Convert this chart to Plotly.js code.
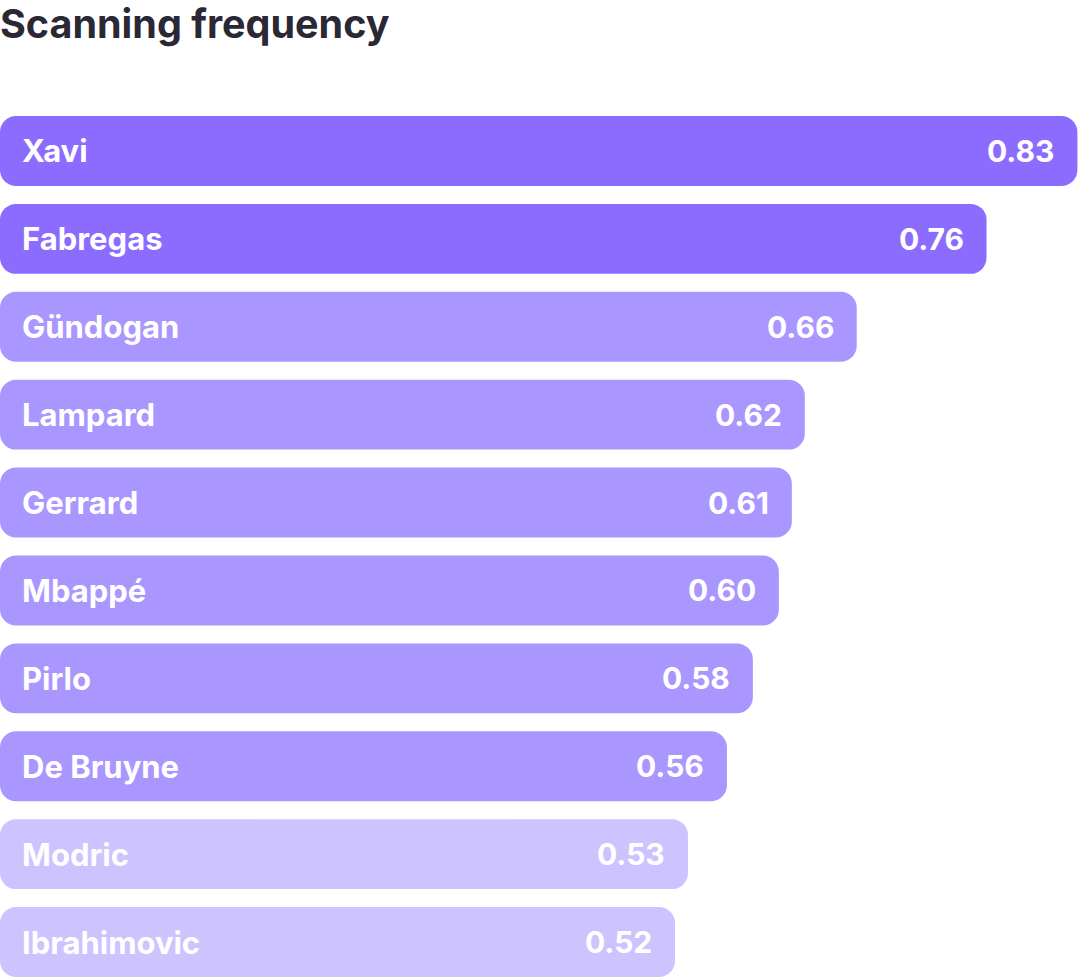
<!DOCTYPE html>
<html>
<head>
<meta charset="utf-8">
<script src="https://cdn.plot.ly/plotly-3.0.1.min.js"></script>
<style>html,body{margin:0;padding:0;background:#fff;}#chart{width:1080px;height:977px;}</style>
</head>
<body>
<div id="chart"></div>
<script>
const players = ["Xavi","Fabregas","Gündogan","Lampard","Gerrard","Mbappé","Pirlo","De Bruyne","Modric","Ibrahimovic"];
const values = [0.83,0.76,0.66,0.62,0.61,0.60,0.58,0.56,0.53,0.52];
const valueLabels = ["0.83","0.76","0.66","0.62","0.61","0.60","0.58","0.56","0.53","0.52"];
const tiers = [0,0,1,1,1,1,1,1,2,2];
const tierColors = ["#8B6CFF","#AA96FF","#CDC4FF"];

const barColors = tiers.map(t => tierColors[t]);
const font = "Inter, 'Open Sans', sans-serif";

const annotations = [];
players.forEach((p,i) => {
  annotations.push({x:0, y:p, xref:'x', yref:'y', text:p, showarrow:false, xanchor:'left', yanchor:'middle', xshift:20,
    font:{family:font, size:31, color:'#ffffff', weight:700}});
  annotations.push({x:values[i], y:p, xref:'x', yref:'y', text:valueLabels[i], showarrow:false, xanchor:'right', yanchor:'middle', xshift:-21,
    font:{family:font, size:30, color:'#ffffff', weight:700}});
});

// An explicit base makes Plotly round both ends of each bar.
const trace = {type:'bar', orientation:'h', y:players, x:values, base:values.map(() => 0),
  marker:{color:barColors, line:{width:0}}, hoverinfo:'none'};

const layout = {
  width:1080, height:977,
  margin:{l:0, r:0, t:116, b:0, pad:0},
  paper_bgcolor:'#ffffff', plot_bgcolor:'#ffffff',
  title:{text:'Scanning frequency', x:0, xref:'paper', xanchor:'left', y:1-24/977, yref:'container', yanchor:'middle',
    font:{family:font, size:39.5, color:'#2A2834', weight:700}},
  xaxis:{range:[0,0.832], visible:false, fixedrange:true},
  yaxis:{type:'category', range:[players.length-1+0.3977, -0.3977], visible:false, fixedrange:true},
  bargap:0.2045,
  barcornerradius:16,
  showlegend:false,
  annotations:annotations
};

Plotly.newPlot('chart',[trace],layout,{displayModeBar:false, staticPlot:true});
</script>
</body>
</html>
